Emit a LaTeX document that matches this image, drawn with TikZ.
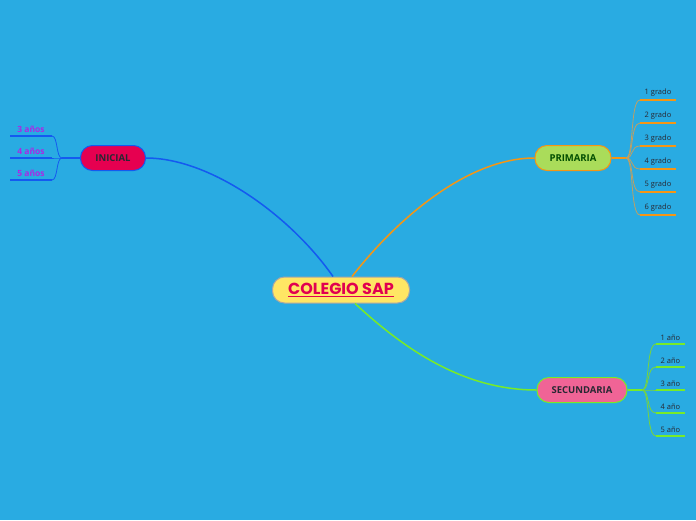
\documentclass[tikz,border=0pt]{standalone}
\usepackage{fontspec}
\setmainfont{Open Sans}
\newfontfamily\sapfont{Poppins}
\usepackage{tikz}
\definecolor{bgblue}{RGB}{41,171,226}
\definecolor{sapfill}{RGB}{255,230,100}
\definecolor{saptext}{RGB}{225,0,80}
\definecolor{iniblue}{RGB}{20,90,240}
\definecolor{inifill}{RGB}{230,0,80}
\definecolor{inipurple}{RGB}{170,40,230}
\definecolor{priorange}{RGB}{245,150,20}
\definecolor{prifill}{RGB}{170,220,90}
\definecolor{pritan}{RGB}{190,160,100}
\definecolor{secgreen}{RGB}{120,235,40}
\definecolor{secfill}{RGB}{240,100,150}
\definecolor{darktext}{RGB}{40,40,50}

\begin{document}
\begin{tikzpicture}[x=1pt, y=-1pt,
	topic/.style={draw, line width=1pt, rounded corners=12pt, minimum height=25pt,
		font=\bfseries\fontsize{9.5}{11}\selectfont, text=darktext},
	leaf/.style={font=\fontsize{7.5}{9}\selectfont, text=darktext, inner sep=1pt},
	link/.style={line width=1.5pt}]
		\fill[bgblue] (0,0) rectangle (696,520);
		\useasboundingbox (0,0) rectangle (696,520);
		% main topics
		\node[topic, fill=sapfill, draw=gray!70, minimum width=137pt, minimum height=26pt,
			text=saptext, font=\sapfont\bfseries\fontsize{16}{17}\selectfont] (sap) at (341,290) {\underline{COLEGIO SAP}};
		\node[topic, fill=inifill, draw=iniblue, minimum width=65pt] (ini) at (113,158) {INICIAL};
		\node[topic, fill=prifill, draw=priorange, minimum width=76pt, text=black!70!green] (pri) at (573,158) {PRIMARIA};
		\node[topic, fill=secfill, draw=secgreen, minimum width=90pt] (sec) at (582,390) {SECUNDARIA};
		% links from the centre
		\draw[link, iniblue] ([xshift=-8pt]sap.north) .. controls (290,215) and (210,158) .. (ini.east);
		\draw[link, priorange] ([xshift=11pt]sap.north) .. controls (400,215) and (470,158) .. (pri.west);
		\draw[link, secgreen] ([xshift=14pt]sap.south) .. controls (400,345) and (460,390) .. (sec.west);
		% inicial
		\coordinate (ih) at (62,158);
		\draw[link, iniblue] (ini.west) -- (ih);
		\foreach \lab/\y [count=\i] in {3 años/136, 4 años/158, 5 años/180} {
			\coordinate (ia\i) at (52,\y);
			\coordinate (ib\i) at (10,\y);
			\draw[iniblue, line width=0.8pt] (ih) .. controls (56,158) and (58,\y) .. (ia\i);
			\draw[link, iniblue] (ia\i) -- node[leaf, above=2pt, text=inipurple, font=\bfseries\fontsize{8.5}{10}\selectfont] {\lab} (ib\i);
		}
		% primaria
		\coordinate (ph) at (626,158);
		\draw[link, priorange] (pri.east) -- (ph);
		\foreach \lab/\y [count=\i] in {1 grado/100, 2 grado/123, 3 grado/146, 4 grado/169, 5 grado/192, 6 grado/215} {
			\coordinate (pa\i) at (640,\y);
			\coordinate (pb\i) at (676,\y);
			\draw[pritan, line width=0.8pt] (ph) .. controls (634,158) and (630,\y) .. (pa\i);
			\draw[link, priorange] (pa\i) -- node[leaf, above=2pt] {\lab} (pb\i);
		}
		% secundaria
		\coordinate (sh) at (642,390);
		\draw[link, secgreen] (sec.east) -- (sh);
		\foreach \lab/\y [count=\i] in {1 año/344, 2 año/367, 3 año/390, 4 año/413, 5 año/436} {
			\coordinate (sa\i) at (656,\y);
			\coordinate (sb\i) at (685,\y);
			\draw[secgreen!80!gray, line width=0.8pt] (sh) .. controls (650,390) and (646,\y) .. (sa\i);
			\draw[link, secgreen] (sa\i) -- node[leaf, above=2pt] {\lab} (sb\i);
		}
\end{tikzpicture}
\end{document}
